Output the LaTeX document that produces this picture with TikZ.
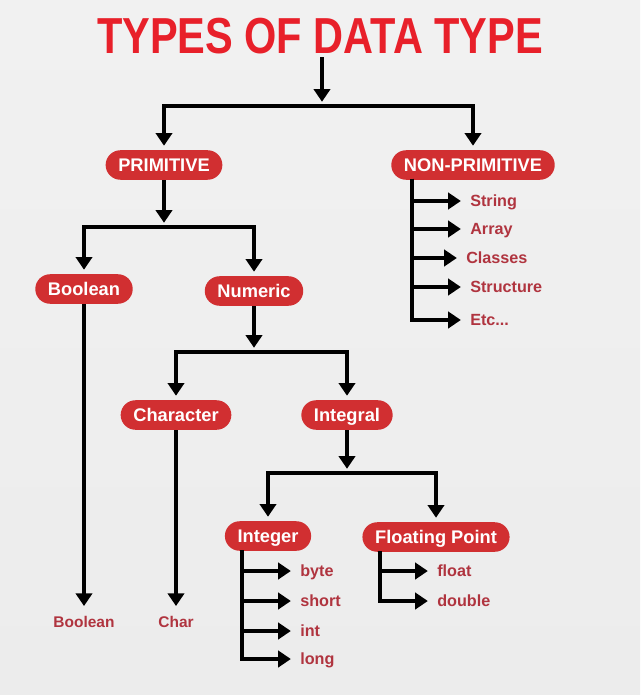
\documentclass[tikz,border=0pt]{standalone}
\usepackage{fontspec}
\setmainfont{Liberation Sans}
\usepackage{tikz}
\usetikzlibrary{arrows.meta,calc,positioning}
\definecolor{kdnen}{HTML}{F1F1F1}
\definecolor{kdnenduoi}{HTML}{ECECEC}
\definecolor{kddo}{HTML}{D12F31}
\definecolor{kddotuoi}{HTML}{E8202A}
\definecolor{kddodam}{HTML}{B0343F}
\def\maunut{kddo}
\def\mauchu{kddodam}
\begin{document}
\begin{tikzpicture}[x=0.025cm,y=-0.025cm]
		\tikzstyle{linestyle} = [->,>={Triangle[length=9pt,width=11.5pt]},line width=3pt,black,shorten >=3pt]
		\tikzstyle{liststyle} = [linestyle,shorten >=6.5pt]
		\tikzstyle{boxstyle} = [fill=\maunut,text=white,rounded corners=10.5pt,minimum height=21pt,inner xsep=9pt,text height=9.3pt,text depth=0pt,font=\fontsize{13}{15}\selectfont\bfseries]
		\tikzstyle{labelstyle} = [text=\mauchu,inner sep=0pt,anchor=west,text height=8.3pt,text depth=0pt,font=\fontsize{11.5}{13}\selectfont\bfseries]
		\shade[top color=kdnen,bottom color=kdnenduoi] (0,0) rectangle (640,695);
		\useasboundingbox (0,0) rectangle (640,695);
		% title
		\node[text=kddotuoi,inner sep=0pt,font=\fontsize{36}{40}\selectfont\bfseries] (title) at (320,36) {\scalebox{0.82}[1]{TYPES OF DATA TYPE}};
		% boxes
		\node[boxstyle] (prim) at (164,165) {PRIMITIVE};
		\node[boxstyle] (nonprim) at (473,165) {NON-PRIMITIVE};
		\node[boxstyle] (bool) at (84,289) {Boolean};
		\node[boxstyle] (num) at (254,291) {Numeric};
		\node[boxstyle] (char) at (176,415) {Character};
		\node[boxstyle] (integral) at (347,415) {Integral};
		\node[boxstyle] (integer) at (268,536) {Integer};
		\node[boxstyle] (float) at (436,537) {Floating Point};
		% labels
		\node[labelstyle] (str) at (470,201) {String};
		\node[labelstyle] (arr) at (470,229) {Array};
		\node[labelstyle] (cls) at (466,258) {Classes};
		\node[labelstyle] (stc) at (470,287) {Structure};
		\node[labelstyle] (etc) at (470,320) {Etc...};
		\node[labelstyle] (byte) at (300,571) {byte};
		\node[labelstyle] (short) at (300,601) {short};
		\node[labelstyle] (int) at (300,631) {int};
		\node[labelstyle] (long) at (300,659) {long};
		\node[labelstyle] (flt) at (437,571) {float};
		\node[labelstyle] (dbl) at (437,601) {double};
		\node[labelstyle,anchor=center,font=\fontsize{11}{12}\selectfont\bfseries] (boollab) at (84,622) {Boolean};
		\node[labelstyle,anchor=center,font=\fontsize{11}{12}\selectfont\bfseries] (charlab) at (176,622) {Char};
		% forks and trunks
		\coordinate (f1) at (322,106);
		\coordinate (f2) at (164,227);
		\coordinate (f3) at (254,352);
		\coordinate (f4) at (347,473);
		\coordinate (t1) at (412,179);
		\coordinate (t2) at (242,550);
		\coordinate (t3) at (380,551);
		% arrows
		\draw[linestyle,shorten <=2pt] (title.south -| f1)--(f1);
		\draw[linestyle] (f1)-|(prim);
		\draw[linestyle] (f1)-|(nonprim);
		\draw[linestyle] (prim)--(f2);
		\draw[linestyle] (f2)-|(bool);
		\draw[linestyle] (f2)-|(num);
		\draw[linestyle] (num)--(f3);
		\draw[linestyle] (f3)-|(char);
		\draw[linestyle] (f3)-|(integral);
		\draw[linestyle] (integral)--(f4);
		\draw[linestyle] (f4)-|(integer);
		\draw[linestyle] (f4)-|(float);
		\draw[linestyle,shorten >=7pt] (bool)--(boollab);
		\draw[linestyle,shorten >=7pt] (char)--(charlab);
		\draw[liststyle] (t1)|-(str);
		\draw[liststyle] (t1)|-(arr);
		\draw[liststyle] (t1)|-(cls);
		\draw[liststyle] (t1)|-(stc);
		\draw[liststyle] (t1)|-(etc);
		\draw[liststyle] (t2)|-(byte);
		\draw[liststyle] (t2)|-(short);
		\draw[liststyle] (t2)|-(int);
		\draw[liststyle] (t2)|-(long);
		\draw[liststyle] (t3)|-(flt);
		\draw[liststyle] (t3)|-(dbl);
	\end{tikzpicture}
\end{document}
